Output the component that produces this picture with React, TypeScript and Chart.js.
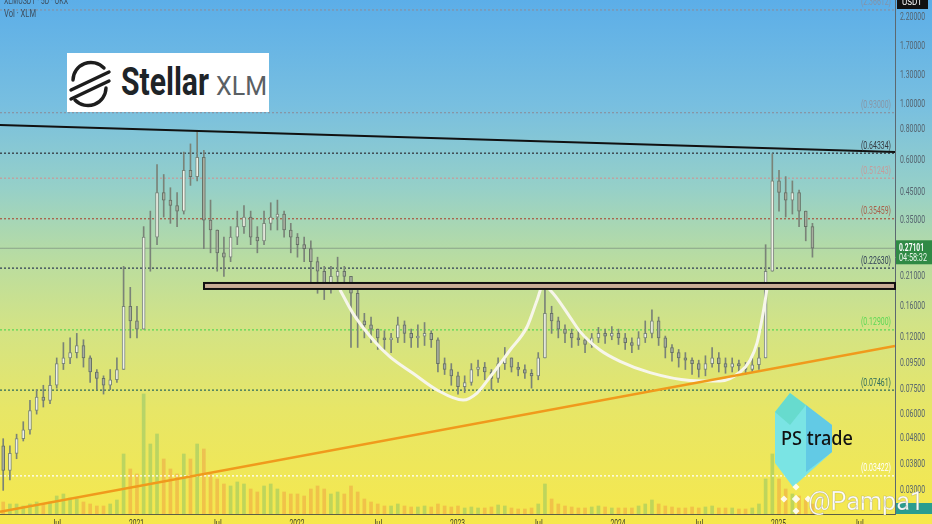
import React, { useEffect, useRef } from 'react';
import { Chart, registerables } from 'chart.js';
Chart.register(...registerables);

// ---- data ----
const startYear = 2020.17;
const candleStep = 1 / 24;
const firstOpen = 0.045;
const closes = [
  0.036, 0.042, 0.048, 0.052, 0.062, 0.07, 0.068, 0.078, 0.095, 0.1,
  0.105, 0.112, 0.1, 0.088, 0.083, 0.078, 0.082, 0.09, 0.16, 0.14,
  0.13, 0.3, 0.3, 0.45, 0.42, 0.4, 0.38, 0.55, 0.52, 0.62,
  0.35, 0.32, 0.26, 0.25, 0.3, 0.33, 0.36, 0.3, 0.29, 0.34,
  0.36, 0.37, 0.32, 0.3, 0.28, 0.27, 0.24, 0.22, 0.19, 0.21,
  0.22, 0.21, 0.18, 0.14, 0.135, 0.13, 0.12, 0.118, 0.12, 0.135,
  0.125, 0.12, 0.122, 0.125, 0.118, 0.095, 0.09, 0.085, 0.077, 0.08,
  0.09, 0.092, 0.088, 0.083, 0.095, 0.1, 0.092, 0.09, 0.087, 0.085,
  0.1, 0.15, 0.14, 0.13, 0.125, 0.12, 0.118, 0.113, 0.12, 0.125,
  0.122, 0.125, 0.12, 0.115, 0.112, 0.12, 0.125, 0.14, 0.12, 0.11,
  0.105, 0.1, 0.098, 0.095, 0.09, 0.095, 0.1, 0.095, 0.092, 0.095,
  0.093, 0.09, 0.094, 0.1, 0.22, 0.5, 0.45, 0.42, 0.45, 0.38,
  0.33, 0.271,
];
const highs = [
  0.048, 0.045, 0.05, 0.056, 0.068, 0.075, 0.078, 0.085, 0.1, 0.115,
  0.12, 0.125, 0.118, 0.102, 0.09, 0.085, 0.09, 0.1, 0.23, 0.19,
  0.16, 0.33, 0.38, 0.58, 0.53, 0.47, 0.45, 0.65, 0.7, 0.79,
  0.66, 0.42, 0.32, 0.3, 0.33, 0.38, 0.4, 0.38, 0.33, 0.38,
  0.41, 0.42, 0.38, 0.34, 0.31, 0.3, 0.29, 0.25, 0.23, 0.23,
  0.25, 0.23, 0.21, 0.185, 0.15, 0.145, 0.13, 0.128, 0.125, 0.145,
  0.14, 0.13, 0.135, 0.138, 0.128, 0.12, 0.1, 0.095, 0.088, 0.085,
  0.095, 0.098, 0.096, 0.09, 0.1, 0.11, 0.1, 0.096, 0.094, 0.09,
  0.105, 0.19, 0.16, 0.145, 0.135, 0.13, 0.128, 0.122, 0.125, 0.132,
  0.13, 0.133, 0.13, 0.125, 0.12, 0.127, 0.14, 0.155, 0.145, 0.122,
  0.113, 0.108, 0.105, 0.1, 0.098, 0.102, 0.11, 0.105, 0.1, 0.1,
  0.098, 0.096, 0.1, 0.11, 0.28, 0.64, 0.55, 0.52, 0.5, 0.46,
  0.38, 0.34,
];
const lows = [
  0.03, 0.033, 0.04, 0.047, 0.05, 0.06, 0.064, 0.066, 0.076, 0.09,
  0.095, 0.1, 0.092, 0.08, 0.075, 0.072, 0.075, 0.08, 0.09, 0.12,
  0.12, 0.13, 0.22, 0.28, 0.36, 0.34, 0.33, 0.37, 0.48, 0.5,
  0.27, 0.26, 0.22, 0.21, 0.24, 0.28, 0.31, 0.28, 0.26, 0.28,
  0.32, 0.32, 0.3, 0.26, 0.25, 0.24, 0.2, 0.18, 0.17, 0.18,
  0.19, 0.19, 0.11, 0.11, 0.12, 0.115, 0.108, 0.108, 0.105, 0.115,
  0.115, 0.11, 0.11, 0.112, 0.11, 0.088, 0.086, 0.078, 0.072, 0.073,
  0.078, 0.085, 0.082, 0.075, 0.08, 0.09, 0.088, 0.085, 0.083, 0.076,
  0.082, 0.1, 0.125, 0.12, 0.115, 0.11, 0.112, 0.105, 0.11, 0.115,
  0.114, 0.118, 0.113, 0.108, 0.105, 0.108, 0.115, 0.12, 0.112, 0.1,
  0.097, 0.092, 0.09, 0.086, 0.084, 0.085, 0.092, 0.088, 0.087, 0.088,
  0.087, 0.086, 0.088, 0.09, 0.1, 0.22, 0.38, 0.36, 0.37, 0.33,
  0.29, 0.25,
];
const volumes = [
  12, 10, 10, 8, 10, 12, 10, 12, 18, 20,
  16, 15, 12, 10, 8, 8, 10, 14, 60, 45,
  40, 120, 70, 80, 55, 45, 40, 60, 55, 70,
  65, 40, 35, 30, 28, 32, 30, 25, 22, 28,
  30, 25, 22, 20, 20, 18, 25, 28, 25, 20,
  22, 20, 28, 22, 15, 12, 10, 8, 8, 10,
  8, 7, 7, 8, 7, 10, 8, 7, 8, 6,
  7, 6, 6, 7, 9, 8, 6, 5, 5, 6,
  10, 30, 15, 10, 8, 7, 6, 6, 7, 8,
  7, 6, 6, 6, 6, 8, 10, 14, 10, 8,
  7, 6, 6, 7, 6, 7, 8, 6, 6, 6,
  5, 5, 6, 10, 35, 60, 35, 25, 20, 18,
  15, 10,
];

const priceTicks = [2.2, 1.7, 1.3, 1.0, 0.8, 0.6, 0.45, 0.35, 0.21, 0.16, 0.12, 0.095, 0.075, 0.06, 0.048, 0.038, 0.03];
const fibLevels = [2.36612, 0.93, 0.64334, 0.51243, 0.35459, 0.2263, 0.129, 0.07461, 0.03422];
const fibColors = ['#8393a8', '#8796a6', '#353a40', '#c49c9c', '#a85f4a', '#2f3d55', '#5cd855', '#2c6a5a', '#ffffff'];
const yearTicks = [2020.5, 2021, 2021.5, 2022, 2022.5, 2023, 2023.5, 2024, 2024.5, 2025, 2025.5];
const yearLabels = ['Jul', '2021', 'Jul', '2022', 'Jul', '2023', 'Jul', '2024', 'Jul', '2025', 'Jul'];
const lastPrice = 0.27101;
const countdown = '04:58:32';
const resistanceTimes = [2020.15, 2025.726];
const resistancePrices = [0.831, 0.65];
const supportTimes = [2020.15, 2025.726];
const supportPrices = [0.0247, 0.1115];
const zoneStart = 2021.421;
const zoneTop = 0.1977;
const zoneBottom = 0.1872;
const cupTimes = [2022.268, 2022.349, 2022.474, 2022.58, 2022.723, 2022.873, 2023.035, 2023.122, 2023.203, 2023.328, 2023.433, 2023.496, 2023.533, 2023.595, 2023.701, 2023.764, 2023.888, 2024.013, 2024.2, 2024.449, 2024.636, 2024.761, 2024.823, 2024.867, 2024.904, 2024.93];
const cupPrices = [0.186, 0.15, 0.118, 0.101, 0.087, 0.0747, 0.0682, 0.0727, 0.0841, 0.1075, 0.1325, 0.169, 0.194, 0.18, 0.145, 0.127, 0.1075, 0.097, 0.0875, 0.0815, 0.081, 0.088, 0.098, 0.115, 0.15, 0.19];
const xMin = 2020.15;
const xMax = 2025.726;
const yMin = 0.0242;
const yMax = 2.59;

const candleTime = (i: number) => startYear + i * candleStep;

function txt(ctx: CanvasRenderingContext2D, s: string, x: number, y: number, font: string, color: string, align: CanvasTextAlign, maxW?: number) {
  ctx.font = font;
  ctx.fillStyle = color;
  ctx.textAlign = align;
  ctx.textBaseline = 'middle';
  if (maxW) ctx.fillText(s, x, y, maxW);
  else ctx.fillText(s, x, y);
}

const overlayPlugin = {
  id: 'overlayPlugin',
  afterDatasetsDraw(chart: any) {
    const { ctx, scales } = chart;
    const x = scales.x, y = scales.y;
    const x1 = x.getPixelForValue(zoneStart), x2 = x.getPixelForValue(xMax);
    const y1 = y.getPixelForValue(zoneTop), y2 = y.getPixelForValue(zoneBottom);
    ctx.save();
    ctx.fillStyle = '#c8ad96';
    ctx.fillRect(x1, y1, x2 - x1, y2 - y1);
    ctx.strokeStyle = '#111';
    ctx.lineWidth = 2;
    ctx.strokeRect(x1, y1, x2 - x1, y2 - y1);
    ctx.restore();
  },
  afterDraw(chart: any) {
    const { ctx, scales, chartArea } = chart;
    const x = scales.x, y = scales.y;
    ctx.save();
    priceTicks.forEach((v) => {
      txt(ctx, v.toFixed(5), chartArea.right + 5, y.getPixelForValue(v), '10px Roboto', '#56646f', 'left', 25);
    });
    fibLevels.forEach((v, i) => {
      txt(ctx, '(' + v.toFixed(5) + ')', chartArea.right - 4, y.getPixelForValue(v) - 7, '10px Roboto', fibColors[i], 'right', 30);
    });
    const py = y.getPixelForValue(lastPrice);
    ctx.fillStyle = '#2f8a45';
    ctx.fillRect(chartArea.right + 1, py - 8, 37, 24);
    txt(ctx, lastPrice.toFixed(5), chartArea.right + 4, py, 'bold 10px Roboto', '#ffffff', 'left', 25);
    txt(ctx, countdown, chartArea.right + 4, py + 10, '10px Roboto', '#e8f5e8', 'left', 28);
    ctx.fillStyle = '#111';
    ctx.fillRect(chartArea.right + 2, -4, 31, 13);
    txt(ctx, 'USDT', chartArea.right + 17, 3, '9px Roboto', '#fff', 'center', 20);
    ctx.fillStyle = '#2a9d8f';
    ctx.fillRect(chartArea.right + 1, 503, 36, 11);
    yearTicks.forEach((t, i) => {
      const px = x.getPixelForValue(t);
      const lab = yearLabels[i];
      txt(ctx, lab, px, chartArea.bottom + 10, '11px Roboto', '#3e3e2c', 'center', lab.length === 3 ? 10 : 15);
    });
    txt(ctx, 'XLMUSDT · 5D · OKX', 4, 1, '10px Roboto', '#3d4f60', 'left', 64);
    txt(ctx, 'Vol · XLM', 4, 14, '10px Roboto', '#3d4f60', 'left', 32);
    ctx.restore();
  },
};

export default function App() {
  const ref = useRef<HTMLCanvasElement | null>(null);
  useEffect(() => {
    if (!ref.current) return;
    const opens = closes.map((c, i) => (i === 0 ? firstOpen : closes[i - 1]));
    const up = closes.map((c, i) => c >= opens[i]);

    const fibSets = fibLevels.map((lv, i) => ({
      type: 'line',
      data: [{ x: xMin, y: lv }, { x: xMax, y: lv }],
      borderColor: fibColors[i],
      borderWidth: 1.3,
      borderDash: [2, 2],
      pointRadius: 0,
      fill: false,
      order: 9,
    }));

    const chart = new Chart(ref.current, {
      type: 'bar',
      data: {
        datasets: [
          {
            type: 'bar',
            yAxisID: 'v',
            data: volumes.map((v, i) => ({ x: candleTime(i), y: v })),
            backgroundColor: up.map((u) => (u ? 'rgba(80,175,110,0.32)' : 'rgba(235,115,55,0.32)')),
            barThickness: 3,
            grouped: false,
            order: 20,
          },
          ...fibSets,
          {
            type: 'line',
            data: [{ x: xMin, y: lastPrice }, { x: xMax, y: lastPrice }],
            borderColor: 'rgba(100,110,110,0.5)',
            borderWidth: 1,
            pointRadius: 0,
            fill: false,
            order: 9,
          },
          {
            type: 'bar',
            data: closes.map((c, i) => ({ x: candleTime(i), y: [Math.min(lows[i], c, opens[i]), Math.max(highs[i], c, opens[i])] })),
            backgroundColor: '#7a8378',
            barThickness: 1,
            grouped: false,
            order: 6,
          },
          {
            type: 'bar',
            data: closes.map((c, i) => ({ x: candleTime(i), y: [Math.min(c, opens[i]), Math.max(c, opens[i])] })),
            backgroundColor: up.map((u) => (u ? '#eef0e6' : '#a8ae9f')),
            borderColor: up.map((u) => (u ? '#7a857a' : '#667066')),
            borderWidth: 1,
            borderSkipped: false,
            barThickness: 3,
            grouped: false,
            order: 5,
          },
          {
            type: 'line',
            data: cupTimes.map((t, i) => ({ x: t, y: cupPrices[i] })),
            borderColor: '#f7f6ea',
            borderWidth: 3,
            pointRadius: 0,
            cubicInterpolationMode: 'monotone',
            fill: false,
            order: 3,
          },
          {
            type: 'line',
            data: resistanceTimes.map((t, i) => ({ x: t, y: resistancePrices[i] })),
            borderColor: '#111111',
            borderWidth: 2,
            pointRadius: 0,
            fill: false,
            order: 2,
          },
          {
            type: 'line',
            data: supportTimes.map((t, i) => ({ x: t, y: supportPrices[i] })),
            borderColor: '#f09a1c',
            borderWidth: 2.5,
            pointRadius: 0,
            fill: false,
            order: 2,
          },
        ] as any,
      },
      options: {
        animation: false,
        responsive: false,
        maintainAspectRatio: false,
        layout: { padding: 0 },
        plugins: { legend: { display: false }, tooltip: { enabled: false } },
        scales: {
          x: {
            type: 'linear',
            min: xMin,
            max: xMax,
            offset: false,
            grid: { display: false, drawTicks: false },
            ticks: { display: false },
            border: { display: true, color: '#5d5f45', width: 1 },
            afterFit: (s: any) => { s.height = 20; },
          },
          y: {
            type: 'logarithmic',
            position: 'right',
            min: yMin,
            max: yMax,
            grid: { display: false, drawTicks: false },
            ticks: { display: false },
            border: { display: true, color: '#5c6870', width: 1 },
            afterFit: (s: any) => { s.width = 37; },
            afterBuildTicks: (s: any) => { s.ticks = priceTicks.map((v) => ({ value: v })); },
          },
          v: { type: 'linear', display: false, min: 0, max: 514 },
        },
      } as any,
      plugins: [overlayPlugin],
    });
    return () => chart.destroy();
  }, []);

  return (
    <div
      style={{
        position: 'fixed',
        left: 0,
        top: 0,
        width: 932,
        height: 524,
        overflow: 'hidden',
        background: 'linear-gradient(180deg, #5caee8 0%, #78bfe0 20%, #96d0c8 36%, #b8dca2 49%, #d2e386 62%, #e7e667 78%, #f6e84c 100%)',
      }}
    >
      <canvas ref={ref} width={932} height={534} style={{ position: 'absolute', left: 0, top: 0 }} />
      <svg width={932} height={524} style={{ position: 'absolute', left: 0, top: 0, pointerEvents: 'none' }}>
        <rect x={67} y={53} width={202} height={59} fill="#ffffff" />
        <g stroke="#1d1d1d" strokeWidth={3.4} fill="none" strokeLinecap="round">
          <path d="M 73 80 A 18 18 0 0 1 104 68" />
          <path d="M 106 88 A 18 18 0 0 1 75 100" />
          <line x1={71} y1={90} x2={109} y2={72} />
          <line x1={71} y1={99} x2={109} y2={81} />
        </g>
        <text x={121} y={95} fontFamily="Roboto" fontWeight={700} fontSize={38} fill="#1e2428" textLength={88} lengthAdjust="spacingAndGlyphs">Stellar</text>
        <text x={216} y={95} fontFamily="Roboto" fontWeight={400} fontSize={25} fill="#5a6064" textLength={51} lengthAdjust="spacingAndGlyphs">XLM</text>
        <polygon points="790,393 832,425 832,452 793,487 775,463 775,412" fill="#7ae4e4" />
        <polygon points="806,405 832,425 832,452 806,472" fill="#5fc6e4" opacity={0.9} />
        <polygon points="775,412 790,393 806,405 790,425" fill="#63d8c8" opacity={0.8} />
        <text x={781} y={445} fontFamily="Noto Sans" fontWeight={500} fontSize={20} fill="#111" textLength={72} lengthAdjust="spacingAndGlyphs">PS trade</text>
        <g transform="translate(796,499) rotate(45)" fill="rgba(255,255,255,0.88)">
          <rect x={-3} y={-3} width={6} height={6} />
          <rect x={-11} y={-11} width={5} height={5} />
          <rect x={6} y={6} width={5} height={5} />
          <rect x={6} y={-11} width={5} height={5} />
          <rect x={-11} y={6} width={5} height={5} />
        </g>
        <text x={808} y={510} fontFamily="Roboto" fontSize={25} fill="rgba(255,255,255,0.95)" stroke="rgba(60,60,60,0.25)" strokeWidth={0.6} textLength={116} lengthAdjust="spacingAndGlyphs">@Pampa1</text>
      </svg>
    </div>
  );
}
